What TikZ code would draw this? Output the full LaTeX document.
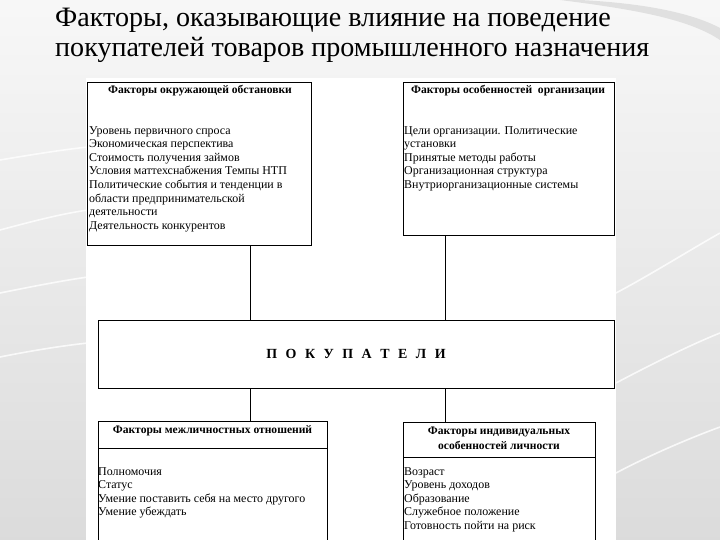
\documentclass[tikz,border=0pt]{standalone}
\usepackage{fontspec}
\setmainfont{Liberation Serif}
\begin{document}
\begin{tikzpicture}[x=1bp,y=-1bp,
  box/.style={draw, line width=0.9bp, inner sep=0, fill=white, anchor=north west},
  txt/.style={anchor=north west, inner sep=0, align=left, font=\fontsize{12}{13.7}\selectfont},
  hdr/.style={inner sep=0, align=center, font=\bfseries\fontsize{11.6}{15}\selectfont},
  link/.style={line width=0.9bp},
  swoosh/.style={white, line width=1.6bp, opacity=0.8},
  ttl/.style={anchor=base west, inner sep=0, font=\fontsize{28.2}{30}\selectfont}]
\useasboundingbox (0,0) rectangle (720,540);
\clip (0,0) rectangle (720,540);
% slide background
\shade[top color=gray!6, bottom color=gray!28] (0,0) rectangle (720,540);
\fill[gray!35, opacity=0.6] (560,0) .. controls (640,10) and (690,20) .. (720,40) -- (720,28) .. controls (690,12) and (640,3) .. (580,0) -- cycle;
\draw[swoosh] (0,160) .. controls (30,155) and (60,150) .. (88,147);
\draw[swoosh] (0,230) .. controls (30,222) and (60,214) .. (88,210);
\draw[swoosh] (0,293) .. controls (30,287) and (60,281) .. (88,277);
\draw[swoosh] (0,357) .. controls (30,351) and (60,346) .. (88,343);
\draw[swoosh] (616,293) .. controls (650,275) and (690,250) .. (720,233);
\draw[swoosh] (616,383) .. controls (650,365) and (690,345) .. (720,333);
\draw[swoosh] (616,473) .. controls (650,455) and (690,438) .. (720,427);
% diagram paper
\fill[white] (86,78) rectangle (616,540);
% title
\node[ttl] (t1) at (55,27) {Факторы, оказывающие влияние на поведение};
\node[ttl] (t2) at (55,57) {покупателей товаров промышленного назначения};
% boxes
\node[box, minimum width=224bp, minimum height=163bp] (tl) at (87,82) {};
\node[box, minimum width=211bp, minimum height=153bp] (tr) at (403,82) {};
\node[box, minimum width=516bp, minimum height=68bp] (buy) at (98,320) {};
\node[box, minimum width=229bp, minimum height=130bp] (bl) at (98,421) {};
\node[box, minimum width=192bp, minimum height=130bp] (br) at (403,422) {};
% header separators of lower boxes
\draw[link] (bl.west |- 0,448) -- (bl.east |- 0,448);
\draw[link] (br.west |- 0,457) -- (br.east |- 0,457);
% connector columns
\coordinate (c1) at (250.5,0);
\coordinate (c2) at (445.5,0);
\draw[link] (tl.south -| c1) -- (buy.north -| c1);
\draw[link] (tr.south -| c2) -- (buy.north -| c2);
\draw[link] (buy.south -| c1) -- (bl.north -| c1);
\draw[link] (buy.south -| c2) -- (br.north -| c2);
% headers
\node[hdr] (htl) at (200,91) {Факторы окружающей обстановки};
\node[hdr] (htr) at (508,91) {Факторы особенностей\ \ организации};
\node[hdr] (hbl) at (212.5,431) {Факторы межличностных отношений};
\node[hdr] (hbr) at (499,438) {Факторы индивидуальных\\особенностей личности};
% lists
\node[txt] (ltl) at (89,126) {Уровень первичного спроса\\Экономическая перспектива\\Стоимость получения займов\\Условия маттехснабжения Темпы НТП\\Политические события и тенденции в\\области предпринимательской\\деятельности\\Деятельность конкурентов};
\node[txt] (ltr) at (404,126) {Цели организации. Политические\\установки\\Принятые методы работы\\Организационная структура\\Внутриорганизационные системы};
\node[txt] (lbl) at (98,467) {Полномочия\\Статус\\Умение поставить себя на место другого\\Умение убеждать};
\node[txt] (lbr) at (404,467) {Возраст\\Уровень доходов\\Образование\\Служебное положение\\Готовность пойти на риск};
% main node text
\node[inner sep=0, font=\bfseries\fontsize{14}{16}\selectfont] (lbuy) at (356,354)
  {П\hspace{8.5bp}О\hspace{8.5bp}К\hspace{8.5bp}У\hspace{8.5bp}П\hspace{8.5bp}А\hspace{8.5bp}Т\hspace{8.5bp}Е\hspace{8.5bp}Л\hspace{8.5bp}И};
\end{tikzpicture}
\end{document}
